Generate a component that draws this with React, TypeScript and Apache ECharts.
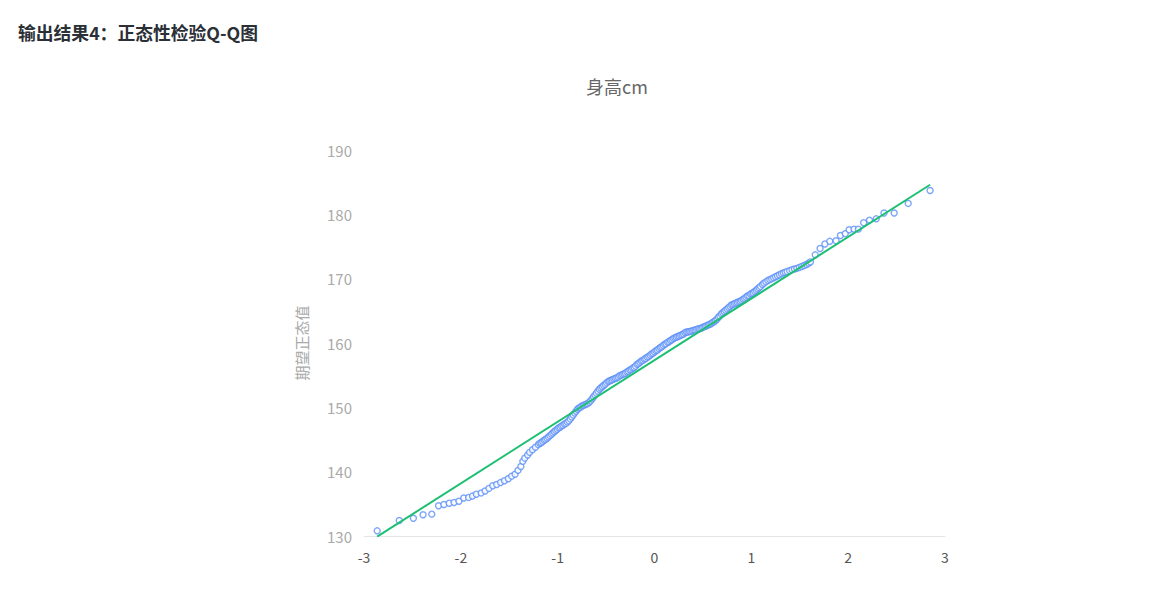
import React, { useEffect, useRef } from 'react';
import * as echarts from 'echarts';

const pageTitle = '输出结果4：正态性检验Q-Q图';
const chartTitle = '身高cm';
const yAxisName = '期望正态值';

// theoretical quantile (x) and observed height (y), read off the picture
// lower tail
const lowX = [
  -2.864, -2.636, -2.49, -2.39, -2.3, -2.23, -2.175, -2.12, -2.07, -2.02,
  -1.97, -1.92, -1.88, -1.84, -1.79, -1.75, -1.71, -1.67, -1.63, -1.59,
  -1.55, -1.51, -1.475, -1.44, -1.41, -1.38, -1.36, -1.34, -1.31, -1.29,
  -1.26, -1.23,
];
const lowY = [
  130.8, 132.4, 132.75, 133.3, 133.4, 134.7, 134.9, 135.1, 135.2, 135.4,
  135.9, 136.0, 136.2, 136.5, 136.7, 137.0, 137.4, 137.8, 138.0, 138.3,
  138.6, 138.9, 139.3, 139.6, 140.2, 140.8, 141.6, 142.1, 142.6, 143.0,
  143.4, 143.8,
];

// dense middle part
const midX = [
  -1.2, -1.185, -1.17, -1.155, -1.14, -1.125, -1.11, -1.095, -1.08, -1.065,
  -1.05, -1.035, -1.02, -1.005, -0.99, -0.975, -0.96, -0.945, -0.93, -0.915,
  -0.9, -0.885, -0.87, -0.855, -0.84, -0.825, -0.81, -0.795, -0.78, -0.765,
  -0.75, -0.735, -0.72, -0.705, -0.69, -0.675, -0.66, -0.645, -0.63, -0.615,
  -0.6, -0.585, -0.57, -0.555, -0.54, -0.525, -0.51, -0.495, -0.48, -0.465,
  -0.45, -0.435, -0.42, -0.405, -0.39, -0.375, -0.36, -0.345, -0.33, -0.315,
  -0.3, -0.285, -0.27, -0.255, -0.24, -0.225, -0.21, -0.195, -0.18, -0.165,
  -0.15, -0.135, -0.12, -0.105, -0.09, -0.075, -0.06, -0.045, -0.03, -0.015,
  0.0, 0.015, 0.03, 0.045, 0.06, 0.075, 0.09, 0.105, 0.12, 0.135,
  0.15, 0.165, 0.18, 0.195, 0.21, 0.225, 0.24, 0.255, 0.27, 0.285,
  0.3, 0.315, 0.33, 0.345, 0.36, 0.375, 0.39, 0.405, 0.42, 0.435,
  0.45, 0.465, 0.48, 0.495, 0.51, 0.525, 0.54, 0.555, 0.57, 0.585,
  0.6, 0.615, 0.63, 0.645, 0.66, 0.675, 0.69, 0.705, 0.72, 0.735,
  0.75, 0.765, 0.78, 0.795, 0.81, 0.825, 0.84, 0.855, 0.87, 0.885,
  0.9, 0.915, 0.93, 0.945, 0.96, 0.975, 0.99, 1.005, 1.02, 1.035,
  1.05, 1.065, 1.08, 1.095,
];
const midY = [
  144.2, 144.4, 144.5, 144.7, 144.9, 145.0, 145.2, 145.4, 145.6, 145.8,
  146.0, 146.2, 146.4, 146.6, 146.8, 146.9, 147.1, 147.2, 147.4, 147.5,
  147.7, 147.9, 148.2, 148.5, 148.8, 149.1, 149.4, 149.7, 149.9, 150.0,
  150.2, 150.3, 150.4, 150.5, 150.6, 150.8, 151.0, 151.3, 151.6, 151.9,
  152.2, 152.5, 152.8, 153.0, 153.2, 153.4, 153.6, 153.8, 154.0, 154.1,
  154.2, 154.3, 154.4, 154.5, 154.6, 154.7, 154.9, 155.0, 155.1, 155.2,
  155.3, 155.5, 155.6, 155.8, 155.9, 156.1, 156.2, 156.4, 156.7, 156.8,
  157.0, 157.2, 157.3, 157.5, 157.6, 157.8, 157.9, 158.1, 158.3, 158.4,
  158.6, 158.8, 158.9, 159.1, 159.3, 159.4, 159.6, 159.8, 159.9, 160.1,
  160.2, 160.4, 160.5, 160.7, 160.8, 160.9, 161.0, 161.1, 161.2, 161.3,
  161.4, 161.6, 161.7, 161.7, 161.8, 161.8, 161.9, 162.0, 162.0, 162.1,
  162.2, 162.2, 162.3, 162.4, 162.5, 162.6, 162.7, 162.8, 162.9, 163.0,
  163.2, 163.3, 163.5, 163.7, 164.0, 164.2, 164.5, 164.7, 164.9, 165.1,
  165.3, 165.5, 165.7, 165.9, 166.0, 166.1, 166.2, 166.3, 166.4, 166.5,
  166.6, 166.8, 166.9, 167.1, 167.3, 167.4, 167.6, 167.7, 167.8, 168.0,
  168.2, 168.4, 168.6, 168.8,
];

// upper tail
const highX = [
  1.115, 1.13, 1.15, 1.17, 1.19, 1.21, 1.23, 1.25, 1.27, 1.29,
  1.31, 1.33, 1.35, 1.37, 1.395, 1.42, 1.445, 1.47, 1.495, 1.52,
  1.545, 1.57, 1.59, 1.61, 1.66, 1.71, 1.76, 1.81, 1.875, 1.92,
  1.97, 2.01, 2.06, 2.105, 2.16, 2.22, 2.29, 2.37, 2.475, 2.62,
  2.846,
];
const highY = [
  169.1, 169.3, 169.5, 169.7, 169.85, 170.0, 170.15, 170.3, 170.45, 170.6,
  170.75, 170.9, 171.0, 171.1, 171.25, 171.4, 171.5, 171.6, 171.75, 171.9,
  172.05, 172.2, 172.4, 172.6, 173.7, 174.7, 175.4, 175.8, 175.9, 176.7,
  177.0, 177.6, 177.7, 177.7, 178.7, 179.1, 179.3, 180.2, 180.2, 181.7,
  183.7,
];

// reference normal line end points
const fitLineX = [-2.864, 2.846];
const fitLineY = [129.9, 184.6];

const yTicks = [130, 190, 10];
const xTicks = [-3, 3, 1];

const App: React.FC = () => {
  const chartRef = useRef<HTMLDivElement>(null);

  useEffect(() => {
    const chart = echarts.init(chartRef.current!, null, { renderer: 'svg' });

    const xs = [...lowX, ...midX, ...highX];
    const ys = [...lowY, ...midY, ...highY];

    const options = {
      animation: false,
      textStyle: { fontFamily: '"Noto Sans CJK SC", "Noto Sans", sans-serif' },
      title: {
        text: chartTitle,
        left: 581,
        top: 72,
        textStyle: { fontSize: 18, fontWeight: 'normal', color: '#666' },
      },
      grid: { left: 364, right: 212, top: 150, bottom: 69, containLabel: false },
      xAxis: {
        type: 'value',
        min: xTicks[0],
        max: xTicks[1],
        interval: xTicks[2],
        axisLine: { show: true, lineStyle: { color: '#e6e6e6' } },
        axisTick: { show: false },
        splitLine: { show: false },
        axisLabel: { color: '#555', fontSize: 14, margin: 14 },
      },
      yAxis: {
        type: 'value',
        min: yTicks[0],
        max: yTicks[1],
        interval: yTicks[2],
        name: yAxisName,
        nameLocation: 'middle',
        nameGap: 55,
        nameTextStyle: { color: '#aaa', fontSize: 15 },
        axisLine: { show: false },
        axisTick: { show: false },
        splitLine: { show: false },
        axisLabel: { color: '#aaa', fontSize: 15, margin: 12 },
      },
      series: [
        {
          type: 'line',
          data: fitLineX.map((x, i) => [x, fitLineY[i]]),
          symbol: 'none',
          lineStyle: { color: '#1DBF73', width: 2 },
          z: 3,
        },
        {
          type: 'scatter',
          data: xs.map((x, i) => [x, ys[i]]),
          symbol: 'circle',
          symbolSize: 6,
          itemStyle: { color: '#fff', borderColor: '#5B8FF9', borderWidth: 1.4 },
          z: 2,
        },
      ],
    };

    chart.setOption(options);
    return () => {
      chart.dispose();
    };
  }, []);

  return (
    <div style={{ position: 'absolute', left: 0, top: 0, width: 1157, height: 605 }}>
      <div
        style={{
          position: 'absolute',
          left: 18,
          top: 19,
          fontSize: 17.8,
          fontWeight: 'bold',
          color: '#2b2f36',
          fontFamily: '"Noto Sans CJK SC", "Noto Sans", sans-serif',
          zIndex: 1,
        }}
      >
        {pageTitle}
      </div>
      <div ref={chartRef} style={{ position: 'absolute', left: 0, top: 0, width: 1157, height: 605 }} />
    </div>
  );
};

export default App;
